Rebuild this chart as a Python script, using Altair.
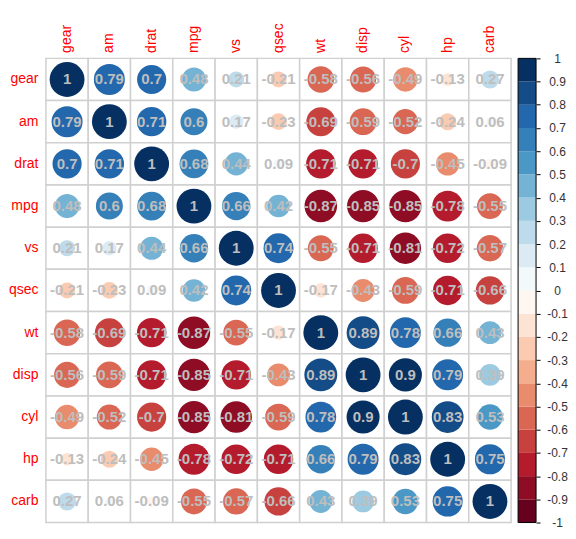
import altair as alt
import pandas as pd

names = ["gear", "am", "drat", "mpg", "vs", "qsec", "wt", "disp", "cyl", "hp", "carb"]

r_gear = [1, 0.79, 0.70, 0.48, 0.21, -0.21, -0.58, -0.56, -0.49, -0.13, 0.27]
r_am = [0.79, 1, 0.71, 0.60, 0.17, -0.23, -0.69, -0.59, -0.52, -0.24, 0.06]
r_drat = [0.70, 0.71, 1, 0.68, 0.44, 0.09, -0.71, -0.71, -0.70, -0.45, -0.09]
r_mpg = [0.48, 0.60, 0.68, 1, 0.66, 0.42, -0.87, -0.85, -0.85, -0.78, -0.55]
r_vs = [0.21, 0.17, 0.44, 0.66, 1, 0.74, -0.55, -0.71, -0.81, -0.72, -0.57]
r_qsec = [-0.21, -0.23, 0.09, 0.42, 0.74, 1, -0.17, -0.43, -0.59, -0.71, -0.66]
r_wt = [-0.58, -0.69, -0.71, -0.87, -0.55, -0.17, 1, 0.89, 0.78, 0.66, 0.43]
r_disp = [-0.56, -0.59, -0.71, -0.85, -0.71, -0.43, 0.89, 1, 0.90, 0.79, 0.39]
r_cyl = [-0.49, -0.52, -0.70, -0.85, -0.81, -0.59, 0.78, 0.90, 1, 0.83, 0.53]
r_hp = [-0.13, -0.24, -0.45, -0.78, -0.72, -0.71, 0.66, 0.79, 0.83, 1, 0.75]
r_carb = [0.27, 0.06, -0.09, -0.55, -0.57, -0.66, 0.43, 0.39, 0.53, 0.75, 1]

matrix = [r_gear, r_am, r_drat, r_mpg, r_vs, r_qsec, r_wt, r_disp, r_cyl, r_hp, r_carb]

# colour bar bins and tick values
bin_lo = [-1.0, -0.9, -0.8, -0.7, -0.6, -0.5, -0.4, -0.3, -0.2, -0.1,
          0.0, 0.1, 0.2, 0.3, 0.4, 0.5, 0.6, 0.7, 0.8, 0.9]
bin_hi = [-0.9, -0.8, -0.7, -0.6, -0.5, -0.4, -0.3, -0.2, -0.1, 0.0,
          0.1, 0.2, 0.3, 0.4, 0.5, 0.6, 0.7, 0.8, 0.9, 1.0]
tick_values = [-1.0, -0.9, -0.8, -0.7, -0.6, -0.5, -0.4, -0.3, -0.2, -0.1, 0.0,
               0.1, 0.2, 0.3, 0.4, 0.5, 0.6, 0.7, 0.8, 0.9, 1.0]
thresholds = bin_hi[:-1]

# RdBu palette (corrplot style) resampled to 20 colours
anchors = ["#67001F", "#B2182B", "#D6604D", "#F4A582", "#FDDBC7", "#FFFFFF",
           "#D1E5F0", "#92C5DE", "#4393C3", "#2166AC", "#053061"]


def hex2rgb(h):
    return [int(h[k:k + 2], 16) for k in (1, 3, 5)]


def ramp(cols, n):
    rgb = [hex2rgb(c) for c in cols]
    out = []
    for i in range(n):
        t = i * (len(cols) - 1) / (n - 1)
        k = min(int(t), len(cols) - 2)
        f = t - k
        c = [round(rgb[k][m] + (rgb[k + 1][m] - rgb[k][m]) * f) for m in range(3)]
        out.append("#%02X%02X%02X" % tuple(c))
    return out


palette = ramp(anchors, 20)

records = []
for i, rn in enumerate(names):
    for j, cn in enumerate(names):
        v = matrix[i][j]
        records.append({"row": rn, "col": cn, "r": v, "absr": abs(v), "label": f"{v:g}"})
df = pd.DataFrame(records)

cb_df = pd.DataFrame({"lo": bin_lo, "hi": bin_hi,
                      "mid": [(a + b) / 2 for a, b in zip(bin_lo, bin_hi)]})
frame_df = pd.DataFrame({"lo": [-1.0], "hi": [1.0]})

color_scale = alt.Scale(type="threshold", domain=thresholds, range=palette)

FONT = "Liberation Sans"

x_enc = alt.X("col:N", sort=names,
              scale=alt.Scale(paddingInner=0, paddingOuter=0),
              axis=alt.Axis(orient="top", labelAngle=-90, labelColor="#FF0000",
                            labelFontSize=14, labelFont=FONT, ticks=False,
                            domain=False, labelPadding=6, title=None))
y_enc = alt.Y("row:N", sort=names,
              scale=alt.Scale(paddingInner=0, paddingOuter=0),
              axis=alt.Axis(orient="left", labelColor="#FF0000", labelFontSize=14,
                            labelFont=FONT, ticks=False, domain=False,
                            labelPadding=8, title=None))

base = alt.Chart(df)
grid = base.mark_rect(fill="white", stroke="#D0D0D0", strokeWidth=1.5).encode(x=x_enc, y=y_enc)
circles = base.mark_circle(opacity=1).encode(
    x=x_enc, y=y_enc,
    size=alt.Size("absr:Q", scale=alt.Scale(domain=[0, 1], range=[0, 1220]), legend=None),
    color=alt.Color("r:Q", scale=color_scale, legend=None),
)
text = base.mark_text(font=FONT, fontSize=15, fontWeight="bold", color="#BEBEBE",
                      baseline="middle", align="center").encode(
    x=x_enc, y=y_enc, text="label:N")

main = alt.layer(grid, circles, text)

cb_y = alt.Y("lo:Q", scale=alt.Scale(domain=[-1, 1], nice=False, zero=False),
             axis=alt.Axis(orient="right", offset=25, values=tick_values,
                           labelExpr="'' + round(datum.value*10)/10",
                           labelAlign="center", labelPadding=17, labelFontSize=12,
                           labelFont=FONT, labelColor="#333333", tickSize=4,
                           tickColor="#000000", domain=False, grid=False,
                           labelOverlap=False, labelFlush=False, title=None))

colorbar = alt.Chart(cb_df).mark_rect().encode(
    x=alt.value(473), x2=alt.value(491),
    y=cb_y, y2="hi:Q",
    color=alt.Color("mid:Q", scale=color_scale, legend=None),
)
frame = alt.Chart(frame_df).mark_rect(fillOpacity=0, stroke="#000000", strokeWidth=1).encode(
    x=alt.value(473), x2=alt.value(491), y=cb_y, y2="hi:Q")

cb = alt.layer(colorbar, frame)

chart = alt.layer(main, cb).resolve_scale(y="independent").properties(
    width=466, height=465,
    padding={"left": 0, "top": 14, "right": 0, "bottom": 0},
    background="white",
).configure_view(strokeWidth=0)

chart.save("out.html", embed_options={"renderer": "svg", "actions": False})
